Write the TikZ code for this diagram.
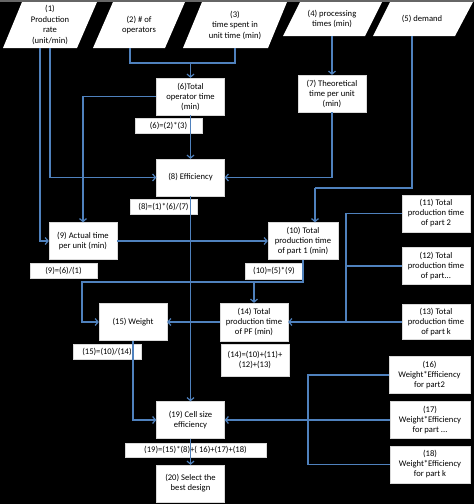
\documentclass[tikz,border=0pt]{standalone}
\usepackage{fontspec}
\setmainfont{Carlito}
\usetikzlibrary{arrows.meta}
\definecolor{lineblue}{RGB}{79,129,189}
\tikzset{
  box/.style={fill=white, draw=white!85!black, line width=0.3pt, align=center, inner sep=1pt,
    font=\fontsize{8.6}{10}\selectfont, minimum width=68pt, minimum height=37pt},
  fbox/.style={fill=white, draw=white!85!black, line width=0.3pt, align=center, inner sep=1pt,
    font=\fontsize{8.6}{10}\selectfont, minimum height=15pt},
  ptext/.style={align=center, inner sep=0pt, font=\fontsize{8.6}{10.5}\selectfont, text=black},
  pshape/.style={fill=white},
  line/.style={draw=lineblue, line width=1.2pt},
  arr/.style={line, -{Straight Barb[length=3pt,width=7pt]}},
}
\begin{document}
\begin{tikzpicture}[x=1pt,y=-1pt]
\useasboundingbox (0,0) rectangle (474,504);
\fill[black] (0,0) rectangle (474,504);
\fill[black!60] (0,0) rectangle (474,2);
% input parallelograms
\fill[pshape] (22,2) -- (97,2) -- (77,48) -- (3,48) -- cycle;
\fill[pshape] (113,2) -- (185,2) -- (165,48) -- (93,48) -- cycle;
\fill[pshape] (202,2) -- (287,2) -- (268,48) -- (183,48) -- cycle;
\fill[pshape] (300,2) -- (382,2) -- (365,36) -- (283,36) -- cycle;
\fill[pshape] (390,2) -- (473,2) -- (455,36) -- (373,36) -- cycle;
\node[ptext, minimum height=46pt] (p1) at (50,25) {(1)\\Production\\rate\\(unit/min)};
\node[ptext, minimum height=46pt] (p2) at (139,25) {(2) \# of\\operators};
\node[ptext, minimum height=46pt] (p3) at (235,25) {(3)\\time spent in\\unit time (min)};
\node[ptext, minimum height=34pt] (p4) at (332,19) {(4) processing\\times (min)};
\node[ptext, minimum height=34pt] (p5) at (422,19) {(5) demand};
% formula boxes
\node[fbox, minimum width=67pt] (f6) at (168.5,125.5) {(6)=(2)*(3)};
\node[fbox, minimum width=67pt] (f8) at (163.5,206.5) {(8)=(1)*(6)/(7)};
\node[fbox, minimum width=67pt] (f9) at (63.5,270.5) {(9)=(6)/(1)};
\node[fbox, minimum width=58pt, minimum height=16pt] (f10) at (274,271) {(10)=(5)*(9)};
\node[fbox, minimum width=68pt, minimum height=32pt] (f14) at (255,360) {(14)=(10)+(11)+\\(12)+(13)};
\node[fbox, minimum width=68pt] (f15) at (107,351.5) {(15)=(10)/(14)};
\node[fbox, minimum width=141pt, minimum height=14pt] (f19) at (195.5,450) {(19)=(15)*(8)+( 16)+(17)+(18)};
% main boxes
\node[box] (n6) at (190.5,96.5) {(6)Total\\operator time\\(min)};
\node[box] (n7) at (332,93.5) {(7) Theoretical\\time per unit\\(min)};
\node[box] (n8) at (190.5,177.5) {(8) Efficiency};
\node[box] (n9) at (83,241) {(9) Actual time\\per unit (min)};
\node[box, minimum width=70pt] (n10) at (303,241) {(10) Total\\production time\\of part 1 (min)};
\node[box] (n11) at (436,213.5) {(11) Total\\production time\\of part 2};
\node[box] (n12) at (436,266) {(12) Total\\production time\\of part...};
\node[box, minimum height=35pt] (n13) at (436,322) {(13) Total\\production time\\of part k};
\node[box, minimum height=38pt] (n14) at (254,322) {(14) Total\\production time\\of PF (min)};
\node[box] (n15) at (133,322) {(15) Weight};
\node[box, minimum width=81pt] (n16) at (429.5,375) {(16)\\Weight*Efficiency\\for part2};
\node[box, minimum width=80pt] (n17) at (430,420) {(17)\\Weight*Efficiency\\for part ...};
\node[box, minimum width=80pt] (n18) at (430,464.5) {(18)\\Weight*Efficiency\\for part k};
\node[box] (n19) at (190.5,420) {(19) Cell size\\efficiency};
\node[box] (n20) at (190.5,483.5) {(20) Select the\\best design};
% junction coordinates
\coordinate (j23) at (190.5,63);
\coordinate (c5) at (315,188);
\coordinate (k15) at (82,282);
\coordinate (bus14) at (346,322);
\coordinate (bx) at (308,0);
% connectors
\draw[arr] ([xshift=-10pt]p1.south) |- (n9.west);
\draw[arr] (p1.south) |- (n8.west);
\draw[line] ([xshift=-9pt]p2.south) |- (j23);
\draw[line] (p3.south) |- (j23);
\draw[arr] (j23) -- (n6.north);
\draw[arr] (n6.west) -| (n9.north);
\draw[arr] (n6.south) -- (n8.north);
\draw[arr] (p4.south) -- (n7.north);
\draw[arr] (n7.south) |- (n8.east);
\draw[line] ([xshift=-10pt]p5.south) |- (c5);
\draw[arr] (c5) -- (c5 |- n10.north);
\draw[arr] (n9.east) -- (n10.west);
\draw[arr] (n8.south) -- (n19.north);
\draw[arr] (n10.south) |- (k15) |- (n15.west);
\draw[arr] (n14.north |- k15) -- (n14.north);
\draw[line] (n11.west) -| (bus14);
\draw[line] (n12.west) -| (bus14);
\draw[line] (n13.west) -- (bus14);
\draw[arr] (bus14) -- (n14.east);
\draw[arr] (n14.west) -- (n15.east);
\draw[arr] (n15.south) |- (n19.west);
\draw[line] (n16.west) -| (bx |- n18.west) -- (n18.west);
\draw[arr] (n17.west) -- (n19.east);
\draw[arr] (n19.south) -- (n20.north);
\end{tikzpicture}
\end{document}
